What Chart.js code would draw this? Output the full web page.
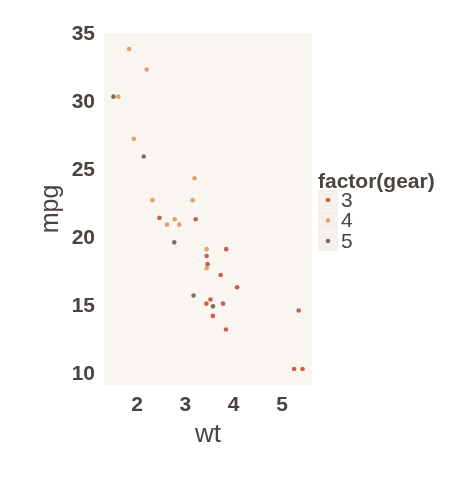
<!DOCTYPE html>
<html><head><meta charset="utf-8">
<script src="https://cdn.jsdelivr.net/npm/chart.js@4"></script>
<style>html,body{margin:0;padding:0;background:#fff}#wrap{width:474px;height:480px}</style>
</head><body><div id="wrap"><canvas id="c" width="474" height="480"></canvas></div>
<script>
const gearLevels = ["3", "4", "5"];
const gearColors = ["#c9604f", "#e3a06e", "#787065"];
const wt3 = [3.215, 3.440, 3.460, 3.570, 4.070, 3.730, 3.780, 5.250, 5.424, 5.345, 2.465, 3.520, 3.435, 3.840, 3.845];
const mpg3 = [21.4, 18.7, 18.1, 14.3, 16.4, 17.3, 15.2, 10.4, 10.4, 14.7, 21.5, 15.5, 15.2, 13.3, 19.2];
const wt4 = [2.620, 2.875, 2.320, 3.190, 3.150, 3.440, 3.440, 2.200, 1.615, 1.835, 1.935, 2.780];
const mpg4 = [21.0, 21.0, 22.8, 24.4, 22.8, 19.2, 17.8, 32.4, 30.4, 33.9, 27.3, 21.4];
const wt5 = [2.140, 1.513, 3.170, 2.770, 3.570];
const mpg5 = [26.0, 30.4, 15.8, 19.7, 15.0];
const xTicks = [2, 3, 4, 5];
const yTicks = [10, 15, 20, 25, 30, 35];
const xTitle = "wt", yTitle = "mpg", legendTitle = "factor(gear)";

const series = [[wt3, mpg3], [wt4, mpg4], [wt5, mpg5]];
const datasets = series.map((s, i) => ({
  label: gearLevels[i],
  data: s[0].map((x, j) => ({x: x, y: s[1][j]})),
  backgroundColor: gearColors[i],
  borderColor: gearColors[i],
  borderWidth: 0,
  pointRadius: 2.3,
  pointHoverRadius: 2.3
}));
const allX = [].concat(wt3, wt4, wt5), allY = [].concat(mpg3, mpg4, mpg5);
const xMin = Math.min(...allX), xMax = Math.max(...allX);
const yMin = Math.min(...allY), yMax = Math.max(...allY);
const ex = (xMax - xMin) * 0.05, ey = (yMax - yMin) * 0.05;
const txt = "#4a4440";
const FF = "'Liberation Sans', Arial, sans-serif";

const bgPlugin = {
  id: 'bg',
  beforeDatasetsDraw(chart) {
    const a = chart.chartArea, ctx = chart.ctx;
    ctx.save(); ctx.fillStyle = "#f9f6f1";
    ctx.fillRect(a.left, a.top, a.right - a.left, a.bottom - a.top);
    ctx.restore();
  }
};
const textPlugin = {
  id: 'lg',
  afterDraw(chart) {
    const ctx = chart.ctx, a = chart.chartArea;
    ctx.save();
    ctx.fillStyle = txt;
    // axis titles
    ctx.textAlign = 'center';
    ctx.textBaseline = 'alphabetic';
    ctx.font = "26px " + FF;
    ctx.fillText(xTitle, (a.left + a.right) / 2, 442);
    ctx.save();
    ctx.translate(58, (a.top + a.bottom) / 2);
    ctx.rotate(-Math.PI / 2);
    ctx.font = "25px " + FF;
    ctx.fillText(yTitle, 0, 0);
    ctx.restore();
    // legend
    const x0 = 318;
    ctx.textAlign = 'left';
    ctx.font = "bold 21px " + FF;
    ctx.fillText(legendTitle, x0, 188);
    gearLevels.forEach((g, i) => {
      const y = 200 + i * 20.5;
      ctx.fillStyle = "#f4f0eb";
      ctx.fillRect(x0, y - 10, 20, 20);
      ctx.fillStyle = gearColors[i];
      ctx.beginPath(); ctx.arc(x0 + 10, y, 2.3, 0, Math.PI * 2); ctx.fill();
      ctx.fillStyle = txt;
      ctx.font = "21px " + FF;
      ctx.textBaseline = 'middle';
      ctx.fillText(g, x0 + 23, y + 1);
      ctx.textBaseline = 'alphabetic';
    });
    ctx.restore();
  }
};

new Chart(document.getElementById('c'), {
  type: 'scatter',
  data: {datasets},
  plugins: [bgPlugin, textPlugin],
  options: {
    responsive: false,
    animation: false,
    devicePixelRatio: 1,
    layout: {padding: {left: 0, right: 162, top: 33, bottom: 0}},
    plugins: {legend: {display: false}, tooltip: {enabled: false}},
    scales: {
      x: {
        type: 'linear', min: xMin - ex, max: xMax + ex,
        afterBuildTicks: s => { s.ticks = xTicks.map(v => ({value: v})); },
        afterFit: s => { s.height = 95; },
        grid: {display: false, drawTicks: false}, border: {display: false},
        ticks: {color: txt, padding: 8, font: {family: FF, size: 21, weight: 'bold'}}
      },
      y: {
        type: 'linear', min: yMin - ey, max: yMax + ey,
        afterBuildTicks: s => { s.ticks = yTicks.map(v => ({value: v})); },
        afterFit: s => { s.width = 104; },
        grid: {display: false, drawTicks: false}, border: {display: false},
        ticks: {color: txt, padding: 9, font: {family: FF, size: 21, weight: 'bold'}}
      }
    }
  }
});
</script></body></html>
